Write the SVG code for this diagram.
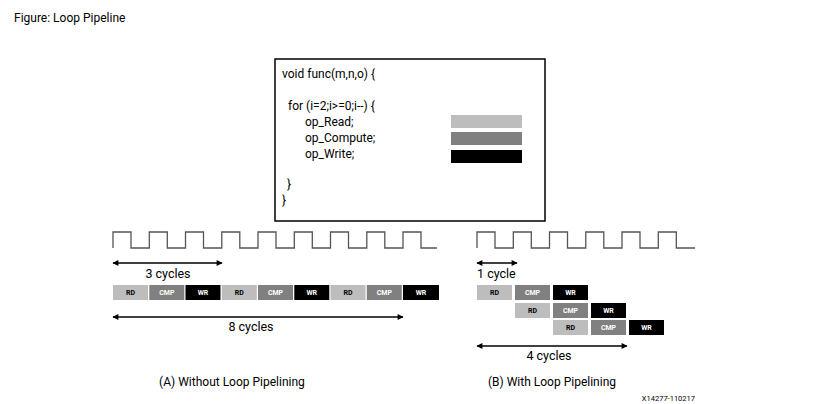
<svg xmlns="http://www.w3.org/2000/svg" width="820" height="404" viewBox="0 0 820 404">
<style>
text{font-family:Roboto,"Liberation Sans",sans-serif;fill:#000}
.t{font-size:12px}
.c{font-size:12.5px}
.b{font-size:7px;font-weight:bold;text-anchor:middle}
.w{fill:#fff}
.rd{fill:#bdbdbd}.cmp{fill:#808080}.wr{fill:#000}
.clk{fill:none;stroke:#555;stroke-width:1.3}
.ar{stroke:#000;stroke-width:1.3;marker-start:url(#a);marker-end:url(#a)}
</style>
<defs><marker id="a" viewBox="0 0 10 10" refX="9" refY="5" markerWidth="8" markerHeight="6" orient="auto-start-reverse" markerUnits="userSpaceOnUse"><path d="M0,0L10,5L0,10z"/></marker></defs>
<rect width="820" height="404" fill="#fff"/>
<text x="14" y="22" class="t">Figure: Loop Pipeline</text>
<g id="code">
<rect x="275" y="59" width="270" height="162" fill="#fff" stroke="#000" stroke-width="1.5"/>
<text x="282" y="78" class="t">void func(m,n,o) {</text>
<text x="288" y="110" class="t">for (i=2;i&gt;=0;i--) {</text>
<text x="305" y="126" class="t">op_Read;</text>
<text x="305" y="142" class="t">op_Compute;</text>
<text x="305" y="158" class="t">op_Write;</text>
<text x="287" y="188" class="t">}</text>
<text x="282" y="204" class="t">}</text>
<rect x="451" y="115" width="71" height="13" class="rd"/>
<rect x="451" y="132" width="71" height="13" class="cmp"/>
<rect x="451" y="150" width="71" height="13" class="wr"/>
</g>
<g id="clockA"><path class="clk" d="M113,248V232H131V248H149.3V232H167.3V248H185.5V232H203.5V248H221.8V232H239.8V248H258V232H276V248H294.3V232H312.3V248H330.5V232H348.5V248H366.8V232H384.8V248H403V232H421V248H437"/></g>
<g id="clockB"><path class="clk" d="M477,248V232H495V248H513.3V232H531.3V248H549.5V232H567.5V248H585.8V232H603.8V248H622V232H640V248H658.3V232H676.3V248H695"/></g>
<g id="opsA">
<rect x="113" y="285" width="35" height="15" class="rd"/><text x="130.5" y="295" class="b">RD</text>
<rect x="149.3" y="285" width="35" height="15" class="cmp"/><text x="166.8" y="295" class="b w">CMP</text>
<rect x="185.5" y="285" width="35" height="15" class="wr"/><text x="203" y="295" class="b w">WR</text>
<rect x="221.8" y="285" width="35" height="15" class="rd"/><text x="239.3" y="295" class="b">RD</text>
<rect x="258" y="285" width="35" height="15" class="cmp"/><text x="275.5" y="295" class="b w">CMP</text>
<rect x="294.3" y="285" width="35" height="15" class="wr"/><text x="311.8" y="295" class="b w">WR</text>
<rect x="330.5" y="285" width="35" height="15" class="rd"/><text x="348" y="295" class="b">RD</text>
<rect x="366.8" y="285" width="35" height="15" class="cmp"/><text x="384.3" y="295" class="b w">CMP</text>
<rect x="403" y="285" width="36" height="15" class="wr"/><text x="421" y="295" class="b w">WR</text>
</g>
<g id="opsB">
<rect x="477" y="285" width="35" height="15" class="rd"/><text x="494.5" y="295" class="b">RD</text>
<rect x="515" y="285" width="35" height="15" class="cmp"/><text x="532.5" y="295" class="b w">CMP</text>
<rect x="553" y="285" width="35" height="15" class="wr"/><text x="570.5" y="295" class="b w">WR</text>
<rect x="515" y="303" width="35" height="15" class="rd"/><text x="532.5" y="313" class="b">RD</text>
<rect x="553" y="303" width="35" height="15" class="cmp"/><text x="570.5" y="313" class="b w">CMP</text>
<rect x="591" y="303" width="35" height="15" class="wr"/><text x="608.5" y="313" class="b w">WR</text>
<rect x="553" y="320" width="35" height="15" class="rd"/><text x="570.5" y="330" class="b">RD</text>
<rect x="591" y="320" width="35" height="15" class="cmp"/><text x="608.5" y="330" class="b w">CMP</text>
<rect x="629" y="320" width="35" height="15" class="wr"/><text x="646.5" y="330" class="b w">WR</text>
</g>
<g id="connectors">
<line x1="113" y1="263" x2="222" y2="263" class="ar"/>
<line x1="113" y1="317" x2="403" y2="317" class="ar"/>
<line x1="477" y1="263" x2="517" y2="263" class="ar"/>
<line x1="477" y1="346" x2="627" y2="346" class="ar"/>
</g>
<text x="168" y="278" class="c" text-anchor="middle">3 cycles</text>
<text x="251" y="331" class="c" text-anchor="middle">8 cycles</text>
<text x="477" y="278" class="c">1 cycle</text>
<text x="549" y="360" class="c" text-anchor="middle">4 cycles</text>
<text x="232" y="386" class="t" text-anchor="middle">(A) Without Loop Pipelining</text>
<text x="552" y="386" class="t" text-anchor="middle">(B) With Loop Pipelining</text>
<text x="695" y="401" font-size="7.5" text-anchor="end">X14277-110217</text>
</svg>
